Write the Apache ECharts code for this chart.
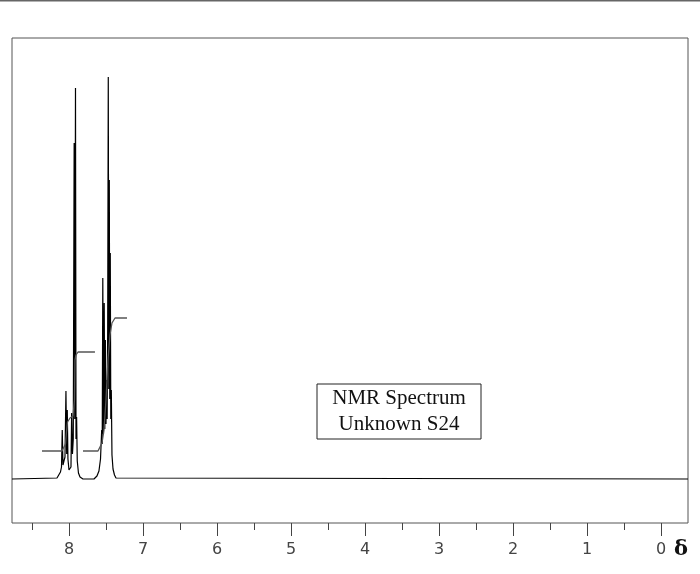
<!DOCTYPE html>
<html>
<head>
<meta charset="utf-8">
<script src="https://cdn.jsdelivr.net/npm/echarts@6/dist/echarts.min.js"></script>
<style>
  html, body { margin: 0; padding: 0; background: #fff; }
  #chart { width: 700px; height: 574px; }
</style>
</head>
<body>
<div id="chart"></div>
<script>
// chemical shift range shown (ppm), axis runs right to left
const shiftMin = -0.365
const shiftMax = 8.77
const majorTicks = [0, 1, 2, 3, 4, 5, 6, 7, 8]
const minorTicks = [0.5, 1.5, 2.5, 3.5, 4.5, 5.5, 6.5, 7.5, 8.5]

// spectrum trace [ppm, intensity]
const spectrum = [
  [8.77, 0], [8.162, 1], [8.135, 3], [8.115, 7], [8.101, 12], [8.091, 49],
  [8.081, 14], [8.068, 18], [8.054, 22], [8.041, 88], [8.031, 25], [8.023, 69],
  [8.014, 20], [8.000, 9], [7.986, 7], [7.973, 12], [7.964, 66], [7.953, 25],
  [7.942, 40], [7.930, 336], [7.922, 60], [7.912, 391], [7.905, 40], [7.897, 62],
  [7.888, 18], [7.872, 6], [7.851, 2], [7.811, 0],
  [7.662, 0], [7.622, 3], [7.595, 8], [7.574, 20], [7.558, 49], [7.551, 35],
  [7.543, 201], [7.534, 45], [7.524, 176], [7.516, 50], [7.508, 139], [7.500, 55],
  [7.492, 99], [7.484, 60], [7.477, 150], [7.469, 402], [7.462, 90], [7.455, 299],
  [7.449, 80], [7.442, 226], [7.435, 60], [7.428, 89], [7.419, 24], [7.405, 10],
  [7.385, 4], [7.365, 1], [7.338, 0], [-0.365, 0]
]

// integral curves
const integral1 = [
  [8.365, 28], [8.095, 28], [8.068, 30], [8.047, 35], [8.034, 47], [8.020, 57],
  [7.986, 61], [7.946, 63], [7.926, 79], [7.919, 119], [7.905, 124], [7.878, 127],
  [7.649, 127]
]
const integral2 = [
  [7.811, 28], [7.608, 28], [7.581, 30], [7.554, 36], [7.527, 49], [7.500, 79],
  [7.473, 119], [7.446, 144], [7.419, 156], [7.378, 161], [7.216, 161]
]

const titleLines = ['NMR Spectrum', 'Unknown S24']

var myChart = echarts.init(document.getElementById('chart'))
var option = {
  animation: false,
  grid: {
    left: 12,
    right: 12,
    top: 38,
    bottom: 51,
    show: true,
    borderColor: '#555',
    borderWidth: 1
  },
  xAxis: [
    {
      type: 'value',
      min: shiftMin,
      max: shiftMax,
      inverse: true,
      position: 'bottom',
      axisLine: { show: false, onZero: false },
      splitLine: { show: false },
      axisTick: {
        show: true,
        customValues: majorTicks,
        length: 13,
        lineStyle: { color: '#444', width: 1 }
      },
      axisLabel: {
        customValues: majorTicks,
        margin: 19,
        color: '#444',
        fontFamily: 'DejaVu Sans',
        fontSize: 16
      }
    },
    {
      type: 'value',
      min: shiftMin,
      max: shiftMax,
      inverse: true,
      position: 'bottom',
      axisLine: { show: false, onZero: false },
      splitLine: { show: false },
      axisTick: {
        show: true,
        customValues: minorTicks,
        length: 7,
        lineStyle: { color: '#444', width: 1 }
      },
      axisLabel: { show: false }
    }
  ],
  yAxis: {
    type: 'value',
    min: -44,
    max: 441,
    show: false
  },
  series: [
    {
      type: 'line',
      data: spectrum,
      showSymbol: false,
      lineStyle: { color: '#000', width: 1.2 }
    },
    {
      type: 'line',
      data: integral1,
      showSymbol: false,
      lineStyle: { color: '#555', width: 1.3 }
    },
    {
      type: 'line',
      data: integral2,
      showSymbol: false,
      lineStyle: { color: '#555', width: 1.3 }
    }
  ],
  graphic: [
    {
      type: 'line',
      shape: { x1: 0, y1: 0.5, x2: 700, y2: 0.5 },
      style: { stroke: '#666', lineWidth: 2 }
    },
    {
      type: 'rect',
      shape: { x: 317, y: 384, width: 164, height: 55 },
      style: { fill: '#fff', stroke: '#222', lineWidth: 1 }
    },
    {
      type: 'text',
      x: 399,
      y: 411,
      style: {
        text: titleLines.join('\n'),
        align: 'center',
        verticalAlign: 'middle',
        font: '21px "Liberation Serif"',
        lineHeight: 26,
        fill: '#111'
      }
    },
    {
      type: 'text',
      x: 681,
      y: 550,
      style: {
        text: 'δ',
        align: 'center',
        verticalAlign: 'middle',
        font: 'bold 21px "DejaVu Serif"',
        fill: '#111'
      }
    }
  ]
}
option && myChart.setOption(option)
</script>
</body>
</html>
